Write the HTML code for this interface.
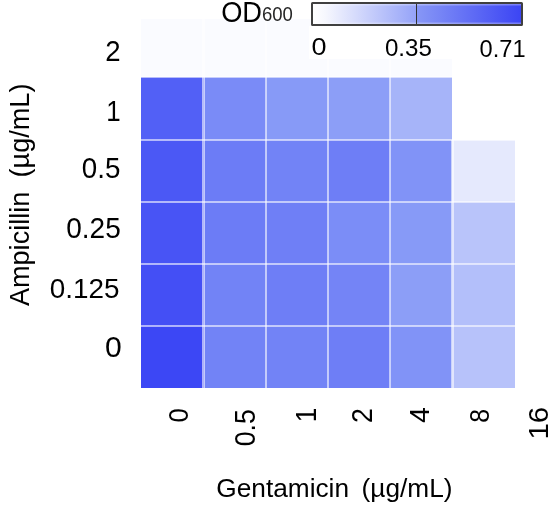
<!DOCTYPE html>
<html><head><meta charset="utf-8"><style>
html,body{margin:0;padding:0;background:#fff;}
body{width:550px;height:509px;position:relative;overflow:hidden;font-family:"Liberation Sans",Arial,sans-serif;color:#000;}
.c,.g,.t,.L{position:absolute;}
.g{background:rgba(255,255,255,0.58);}
.t{white-space:nowrap;line-height:1;}
.r{transform-origin:0 0;transform:rotate(-90deg);}
.L{left:0;top:0;width:550px;height:509px;}
#cb{position:absolute;left:311px;top:2px;width:207.5px;height:20px;border:2px solid #404040;border-radius:1.5px;background:linear-gradient(to right,#ffffff 0%,#f6f7fe 6%,#94a2f8 50%,#8797f6 50%,#3c45f4 100%);box-shadow:inset 0 1.5px 0 rgba(255,255,255,0.3),inset 0 -1.5px 0 rgba(255,255,255,0.3);}
#cbm{position:absolute;left:415.6px;top:3.8px;width:1.4px;height:20.4px;background:#333;}
</style></head><body>
<div class="c" style="left:141.30px;top:19.00px;width:62.23px;height:58.40px;background:#fafbff"></div>
<div class="c" style="left:203.53px;top:19.00px;width:62.23px;height:58.40px;background:#fafbff"></div>
<div class="c" style="left:265.76px;top:19.00px;width:62.23px;height:58.40px;background:#fafbff"></div>
<div class="c" style="left:327.99px;top:19.00px;width:62.23px;height:58.40px;background:#fafbff"></div>
<div class="c" style="left:390.22px;top:19.00px;width:62.23px;height:58.40px;background:#fafbff"></div>
<div class="c" style="left:141.30px;top:77.40px;width:62.23px;height:62.20px;background:#5260f6"></div>
<div class="c" style="left:203.53px;top:77.40px;width:62.23px;height:62.20px;background:#7a8bf7"></div>
<div class="c" style="left:265.76px;top:77.40px;width:62.23px;height:62.20px;background:#879af7"></div>
<div class="c" style="left:327.99px;top:77.40px;width:62.23px;height:62.20px;background:#8c9ef7"></div>
<div class="c" style="left:390.22px;top:77.40px;width:62.23px;height:62.20px;background:#a6b4f9"></div>
<div class="c" style="left:141.30px;top:139.60px;width:62.23px;height:62.20px;background:#4b58f5"></div>
<div class="c" style="left:203.53px;top:139.60px;width:62.23px;height:62.20px;background:#6c7cf6"></div>
<div class="c" style="left:265.76px;top:139.60px;width:62.23px;height:62.20px;background:#7283f6"></div>
<div class="c" style="left:327.99px;top:139.60px;width:62.23px;height:62.20px;background:#6e7ef6"></div>
<div class="c" style="left:390.22px;top:139.60px;width:62.23px;height:62.20px;background:#8193f7"></div>
<div class="c" style="left:452.45px;top:139.60px;width:62.23px;height:62.20px;background:#e5e9fd"></div>
<div class="c" style="left:141.30px;top:201.80px;width:62.23px;height:62.20px;background:#4854f5"></div>
<div class="c" style="left:203.53px;top:201.80px;width:62.23px;height:62.20px;background:#6c7cf6"></div>
<div class="c" style="left:265.76px;top:201.80px;width:62.23px;height:62.20px;background:#6f7ff6"></div>
<div class="c" style="left:327.99px;top:201.80px;width:62.23px;height:62.20px;background:#7b8df7"></div>
<div class="c" style="left:390.22px;top:201.80px;width:62.23px;height:62.20px;background:#879af7"></div>
<div class="c" style="left:452.45px;top:201.80px;width:62.23px;height:62.20px;background:#b9c4fa"></div>
<div class="c" style="left:141.30px;top:264.00px;width:62.23px;height:62.20px;background:#444ff5"></div>
<div class="c" style="left:203.53px;top:264.00px;width:62.23px;height:62.20px;background:#7283f6"></div>
<div class="c" style="left:265.76px;top:264.00px;width:62.23px;height:62.20px;background:#6e7ef6"></div>
<div class="c" style="left:327.99px;top:264.00px;width:62.23px;height:62.20px;background:#7484f6"></div>
<div class="c" style="left:390.22px;top:264.00px;width:62.23px;height:62.20px;background:#8c9ef7"></div>
<div class="c" style="left:452.45px;top:264.00px;width:62.23px;height:62.20px;background:#b3bffa"></div>
<div class="c" style="left:141.30px;top:326.20px;width:62.23px;height:62.20px;background:#3c47f5"></div>
<div class="c" style="left:203.53px;top:326.20px;width:62.23px;height:62.20px;background:#7283f6"></div>
<div class="c" style="left:265.76px;top:326.20px;width:62.23px;height:62.20px;background:#7283f6"></div>
<div class="c" style="left:327.99px;top:326.20px;width:62.23px;height:62.20px;background:#6e7ef6"></div>
<div class="c" style="left:390.22px;top:326.20px;width:62.23px;height:62.20px;background:#8193f7"></div>
<div class="c" style="left:452.45px;top:326.20px;width:62.23px;height:62.20px;background:#b7c2fa"></div>
<div class="g" style="left:202.43px;top:19.00px;width:2.2px;height:369.40px"></div>
<div class="g" style="left:264.66px;top:19.00px;width:2.2px;height:369.40px"></div>
<div class="g" style="left:326.89px;top:19.00px;width:2.2px;height:369.40px"></div>
<div class="g" style="left:389.12px;top:19.00px;width:2.2px;height:369.40px"></div>
<div class="g" style="left:451.35px;top:139.60px;width:2.2px;height:248.80px"></div>
<div class="g" style="left:141.30px;top:76.35px;width:311.15px;height:2.1px"></div>
<div class="g" style="left:141.30px;top:138.55px;width:373.38px;height:2.1px"></div>
<div class="g" style="left:141.30px;top:200.75px;width:373.38px;height:2.1px"></div>
<div class="g" style="left:141.30px;top:262.95px;width:373.38px;height:2.1px"></div>
<div class="g" style="left:141.30px;top:325.15px;width:373.38px;height:2.1px"></div>
<div style="position:absolute;left:308.5px;top:26px;width:150px;height:32.7px;background:#fff"></div>
<div id="cb"></div><div id="cbm"></div>
<div class="L" style="transform-origin:221.00px 2.00px;transform:translate(1.13px,-0.40px) scale(0.9475,1.0000)"><div class="t" style="left:220.00px;top:-2.00px;font-size:28.75px">OD</div></div>
<div class="L" style="transform-origin:263.00px 5.00px;transform:translate(-0.06px,1.70px) scale(0.9514,1.0000)"><div class="t" style="left:262.00px;top:3.00px;font-size:19.50px"><span style="color:#262626">600</span></div></div>
<div class="L" style="transform-origin:311.96px 37.00px;transform:translate(0.55px,0.70px) scale(1.1743,1.0000)"><div class="t" style="left:311.00px;top:34.50px;font-size:23.00px">0</div></div>
<div class="L" style="transform-origin:385.96px 38.00px;transform:translate(-0.01px,1.00px) scale(1.0484,1.0000)"><div class="t" style="left:385.00px;top:36.00px;font-size:23.00px">0.35</div></div>
<div class="L" style="transform-origin:478.96px 39.00px;transform:translate(1.59px,0.70px) scale(1.0272,1.0000)"><div class="t" style="left:478.00px;top:37.00px;font-size:23.00px">0.71</div></div>
<div class="L" style="transform-origin:106.00px 41.00px;transform:translate(0.21px,-0.00px) scale(0.9588,1.0000)"><div class="t" style="left:105.00px;top:37.00px;font-size:28.75px">2</div></div>
<div class="L" style="transform-origin:107.00px 100.00px;transform:translate(1.16px,0.50px) scale(0.9021,1.0000)"><div class="t" style="left:105.00px;top:96.00px;font-size:28.75px">1</div></div>
<div class="L" style="transform-origin:82.00px 158.00px;transform:translate(0.77px,0.10px) scale(0.9650,1.0000)"><div class="t" style="left:81.00px;top:154.00px;font-size:28.75px">0.5</div></div>
<div class="L" style="transform-origin:66.00px 218.00px;transform:translate(1.17px,-0.40px) scale(0.9741,1.0000)"><div class="t" style="left:65.00px;top:214.00px;font-size:28.75px">0.25</div></div>
<div class="L" style="transform-origin:50.00px 279.00px;transform:translate(0.86px,0.40px) scale(1.0406,1.0000)"><div class="t" style="left:49.00px;top:275.50px;font-size:26.75px">0.125</div></div>
<div class="L" style="transform-origin:105.00px 338.00px;transform:translate(1.09px,-0.60px) scale(1.0475,1.0000)"><div class="t" style="left:104.00px;top:333.50px;font-size:28.75px">0</div></div>
<div class="L" style="transform-origin:6.00px 308.89px;transform:translate(2.80px,-223.41px) scale(1.0000,1.0129)"><div class="t r" style="left:4.00px;top:707.00px;width:400px;text-align:right;font-size:26.75px">Ampicillin<span style="display:inline-block;width:14px"></span>(µg/mL)</div></div>
<div class="L" style="transform-origin:216.00px 477.00px;transform:translate(1.32px,1.10px) scale(1.0498,1.0000)"><div class="t" style="left:215.00px;top:475.00px;font-size:25.00px">Gentamicin<span style="display:inline-block;width:12px"></span>(µg/mL)</div></div>
<div class="L" style="transform-origin:168.00px 410.00px;transform:translate(1.40px,-0.68px) scale(1.0000,0.9540)"><div class="t r" style="left:165.25px;top:809.00px;width:400px;text-align:right;font-size:26.75px">0</div></div>
<div class="L" style="transform-origin:235.00px 410.00px;transform:translate(-0.40px,0.19px) scale(1.0000,0.9264)"><div class="t r" style="left:231.15px;top:809.00px;width:400px;text-align:right;font-size:28.75px">0.5</div></div>
<div class="L" style="transform-origin:297.00px 410.75px;transform:translate(-0.80px,-1.52px) scale(1.0000,0.9140)"><div class="t r" style="left:293.00px;top:809.00px;width:400px;text-align:right;font-size:28.75px">1</div></div>
<div class="L" style="transform-origin:353.00px 410.75px;transform:translate(-1.40px,-1.05px) scale(1.0000,0.9302)"><div class="t r" style="left:348.60px;top:809.00px;width:400px;text-align:right;font-size:28.75px">2</div></div>
<div class="L" style="transform-origin:410.00px 410.00px;transform:translate(0.10px,-1.76px) scale(1.0000,1.0629)"><div class="t r" style="left:406.75px;top:809.00px;width:400px;text-align:right;font-size:26.75px">4</div></div>
<div class="L" style="transform-origin:469.00px 410.00px;transform:translate(0.80px,-0.08px) scale(1.0000,0.9255)"><div class="t r" style="left:465.85px;top:809.00px;width:400px;text-align:right;font-size:26.75px">8</div></div>
<div class="L" style="transform-origin:528.00px 410.00px;transform:translate(0.70px,-2.16px) scale(1.0000,1.1026)"><div class="t r" style="left:524.55px;top:809.00px;width:400px;text-align:right;font-size:26.75px">16</div></div>
</body></html>
